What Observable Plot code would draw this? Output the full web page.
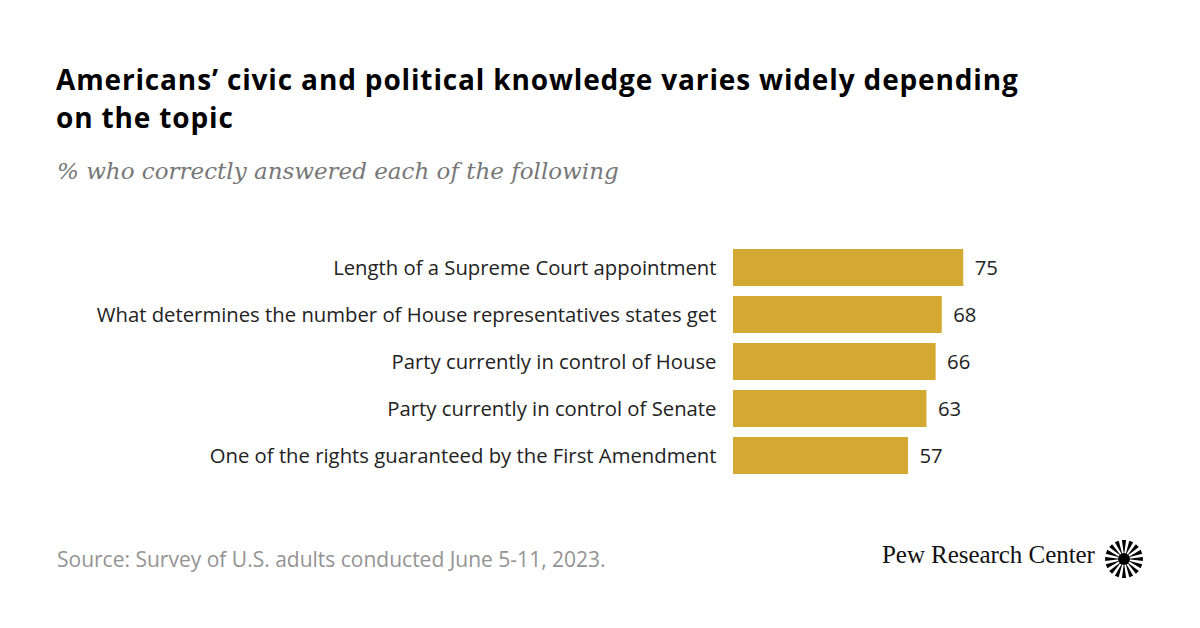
<!DOCTYPE html>
<html>
<head>
<meta charset="utf-8">
<script src="https://cdn.jsdelivr.net/npm/d3@7"></script>
<script src="https://cdn.jsdelivr.net/npm/@observablehq/plot@0.6"></script>
<style>
  html, body { margin: 0; padding: 0; background: #fff; }
  #frame { position: relative; width: 1200px; height: 628px; overflow: hidden; font-family: "Open Sans", Roboto, sans-serif; }
  #title { position: absolute; left: 56px; top: 60px; width: 1120px; font-family: "Open Sans", sans-serif; font-weight: 700; font-size: 28px; line-height: 38px; color: #000; letter-spacing: 0.85px; }
  #subtitle { position: absolute; left: 57px; top: 158px; font-family: "DejaVu Serif", "Liberation Serif", serif; font-style: italic; font-size: 23px; color: #777; }
  #chart { position: absolute; left: 0; top: 230px; }
  #source { position: absolute; left: 57px; top: 545px; font-family: "Open Sans", sans-serif; font-size: 21px; color: #949494; }
  #brand { position: absolute; left: 882px; top: 541px; font-family: "Liberation Serif", "DejaVu Serif", serif; font-size: 25px; color: #111; letter-spacing: -0.05px; }
  #logo { position: absolute; left: 1102px; top: 537px; }
</style>
</head>
<body>
<div id="frame">
  <div id="title">Americans’ civic and political knowledge varies widely depending<br>on the topic</div>
  <div id="subtitle">% who correctly answered each of the following</div>
  <div id="chart"></div>
  <div id="source">Source: Survey of U.S. adults conducted June 5-11, 2023.</div>
  <div id="brand">Pew Research Center</div>
  <svg id="logo" width="44" height="44" viewBox="-22 -22 44 44"></svg>
</div>
<script>
// Survey items and share answering correctly (%)
const questions = [
  "Length of a Supreme Court appointment",
  "What determines the number of House representatives states get",
  "Party currently in control of House",
  "Party currently in control of Senate",
  "One of the rights guaranteed by the First Amendment"
];
const percents = [75, 68, 66, 63, 57];

const rows = questions.map((q, i) => ({question: q, pct: percents[i]}));

const chart = Plot.plot({
  width: 1200,
  height: 260,
  marginTop: 13,
  marginBottom: 10,
  marginLeft: 733,
  marginRight: 160,
  x: {domain: [0, 100], axis: null},
  y: {domain: questions, paddingInner: 0.21, paddingOuter: 0.1, label: null},
  style: {fontFamily: "'Open Sans', sans-serif", fontSize: "20.3px", color: "#222", background: "transparent"},
  marks: [
    Plot.barX(rows, {x: "pct", y: "question", fill: "#d3a932"}),
    Plot.axisY({tickSize: 0, tickPadding: 17, fontSize: 20.3, fill: "#222", label: null}),
    Plot.text(rows, {x: "pct", y: "question", text: d => String(d.pct), textAnchor: "start", dx: 11, fontSize: 20.3, fill: "#222"})
  ]
});
document.getElementById("chart").appendChild(chart);

// Sunburst emblem next to the wordmark
const logo = d3.select("#logo");
const rays = d3.range(16);
logo.selectAll("path").data(rays).join("path")
  .attr("d", i => {
    const a = (i / 16) * 2 * Math.PI;
    const w = 0.11, r0 = 5, r1 = 19;
    const p = (ang, r) => [Math.sin(ang) * r, -Math.cos(ang) * r];
    const [x1, y1] = p(a - w * 0.35, r0), [x2, y2] = p(a + w * 0.35, r0);
    const [x3, y3] = p(a + w, r1), [x4, y4] = p(a - w, r1);
    return `M${x1},${y1}L${x2},${y2}L${x3},${y3}L${x4},${y4}Z`;
  })
  .attr("fill", "#000");
logo.append("circle").attr("r", 6).attr("fill", "#000");
</script>
</body>
</html>
